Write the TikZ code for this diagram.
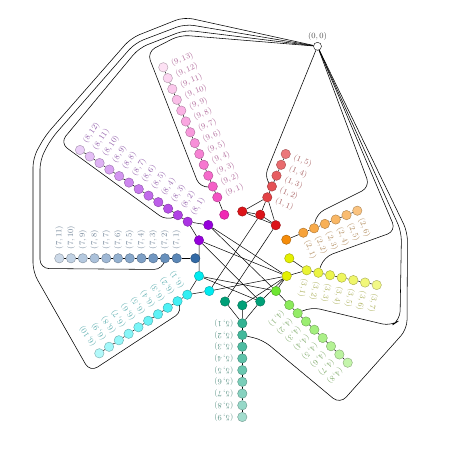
\documentclass[tikz,border=0pt]{standalone}
\usetikzlibrary{backgrounds}
\definecolor{cR}{RGB}{220,20,25}
\definecolor{cO}{RGB}{245,140,10}
\definecolor{cY}{RGB}{228,240,0}
\definecolor{cG}{RGB}{110,230,50}
\definecolor{cT}{RGB}{0,160,120}
\definecolor{cC}{RGB}{0,235,240}
\definecolor{cB}{RGB}{50,105,165}
\definecolor{cP}{RGB}{150,0,220}
\definecolor{cK}{RGB}{240,40,180}
\begin{document}
\begin{tikzpicture}[x=1pt,y=-1pt,
  vtx/.style={circle,minimum size=9.4pt,inner sep=0pt,line width=0.4pt},
  lbl/.style={font=\fontsize{8.3}{10}\selectfont,inner sep=0pt,anchor=west},
  edge/.style={line width=0.5pt,black},
  contour/.style={line width=0.55pt,black,rounded corners=9pt}]
\useasboundingbox (0,0) rectangle (460,460);
% root
\node[vtx,minimum size=8pt,fill=white,draw=black] (root) at (317.5,46.3) {};
\node[font=\fontsize{8.3}{10}\selectfont,text=black!70,inner sep=0pt] (rootlbl) at (317.5,36.5) {$(0,0)$};
% core nodes
\node[vtx,fill=cK,draw=cK!70!black] (P) at (224.3,214.7) {};
\node[vtx,fill=cR,draw=cR!70!black] (R1) at (242.3,211.5) {};
\node[vtx,fill=cR,draw=cR!70!black] (R2) at (260.3,214.7) {};
\node[vtx,fill=cR,draw=cR!70!black] (R3) at (275.8,225.2) {};
\node[vtx,fill=cP,draw=cP!70!black] (PU1) at (208.3,225) {};
\node[vtx,fill=cP,draw=cP!70!black] (PU2) at (199,240.3) {};
\node[vtx,fill=cB,draw=cB!70!black] (B) at (195.3,258.3) {};
\node[vtx,fill=cC,draw=cC!70!black] (C1) at (199,276) {};
\node[vtx,fill=cC,draw=cC!70!black] (C2) at (209.3,291) {};
\node[vtx,fill=cT,draw=cT!70!black] (T1) at (225,301.5) {};
\node[vtx,fill=cT,draw=cT!70!black] (T2) at (242.3,305.3) {};
\node[vtx,fill=cT,draw=cT!70!black] (T3) at (260.3,301.5) {};
\node[vtx,fill=cG,draw=cG!70!black] (G) at (276,291) {};
\node[vtx,fill=cY,draw=cY!70!black] (Y1) at (289.3,258.3) {};
\node[vtx,fill=cY,draw=cY!70!black] (Y2) at (286.7,276) {};
\node[vtx,fill=cO,draw=cO!70!black] (O) at (286.3,239.7) {};
% arms
\foreach \i/\n/\xa/\ya/\xb/\yb/\c/\ang in {
  1/5/267.3/197.3/285.7/154/cR/-23,
  2/6/303.3/232.7/357.3/210.7/cO/-67.8,
  3/7/306.7/270.3/376.7/285/cY/-102,
  4/8/289.3/305/347.7/362.7/cG/-134.6,
  5/9/242.3/323.3/242.3/417/cT/180,
  6/10/187.3/294.7/99.3/353.3/cC/123.7,
  7/11/176.7/258.3/59.3/258.3/cB/90,
  8/12/187.7/221.7/80/150/cP/56.3,
  9/13/217.3/197.3/163.3/67.3/cK/22.6}{
  \foreach \k in {1,...,\n}{
    \pgfmathsetmacro\px{\xa+(\k-1)*(\xb-\xa)/(\n-1)}
    \pgfmathsetmacro\py{\ya+(\k-1)*(\yb-\ya)/(\n-1)}
    \pgfmathsetmacro\lx{\px+8.8*cos(\ang)}
    \pgfmathsetmacro\ly{\py-8.8*sin(\ang)}
    \pgfmathtruncatemacro\pp{80-5.5*(\k-1)}
    \node[vtx,fill=\c!\pp!white,draw=\c!\pp!white!70!black] (n\i-\k) at (\px,\py) {};
    \node[lbl,rotate=\ang,text=\c!55!black!62!white] (l\i-\k) at (\lx,\ly) {$(\i,\k)$};
  }
}
\begin{pgfonlayer}{background}
\fill[white] (0,0) rectangle (460,460);
\foreach \i/\n in {1/5,2/6,3/7,4/8,5/9,6/10,7/11,8/12,9/13}{
  \foreach \k [evaluate=\k as \kp using int(\k-1)] in {2,...,\n}{
    \draw[edge] (n\i-\kp) -- (n\i-\k);
  }
}
% core to arms
\draw[edge] (R1) -- (n1-1) (R2) -- (n1-1) (R3) -- (n1-1);
\draw[edge] (R1) -- (R2) -- (R3) (R1) -- (R3);
\draw[edge] (O) -- (n2-1);
\draw[edge] (Y1) -- (n3-1) (Y2) -- (n3-1);
\draw[edge] (G) -- (n4-1);
\draw[edge] (T1) -- (n5-1) (T2) -- (n5-1) (T3) -- (n5-1);
\draw[edge] (C1) -- (n6-1) (C2) -- (n6-1);
\draw[edge] (B) -- (n7-1);
\draw[edge] (PU1) -- (n8-1) (PU2) -- (n8-1);
\draw[edge] (P) -- (n9-1);
% cross edges
\draw[edge] (R2) -- (C2) (R3) -- (T1);
\draw[edge] (PU1) -- (Y2) (PU1) -- (G);
\draw[edge] (PU2) -- (Y2) (PU2) -- (T3) (PU2) -- (C1);
\draw[edge] (C1) -- (G) (C1) -- (T3);
\draw[edge] (C2) -- (Y2);
\draw[edge] (T2) -- (Y2) (T3) -- (Y2) (G) -- (Y2);
% contours
\draw[contour] (root) -- (264,178) -- (n1-2);
\draw[contour] (root) -- (370,187) -- (316,214) -- (n2-2);
\draw[contour] (root) -- (396,231) -- (324,257) -- (n3-2);
\draw[contour] (root) -- (401.5,232) -- (400,320) -- (391,326) -- (311,307) -- (n4-2);
\draw[contour] (root) -- (407.5,232) -- (407,329) -- (340,404) -- (263,340) -- (n5-2);
\draw[contour] (root) -- (184,17) -- (131,38) -- (45,136) -- (33,158) -- (33,272) -- (90,372) -- (183,311) -- (n6-2);
\draw[contour] (root) -- (185,24) -- (135,43) -- (51,139) -- (40,160) -- (40,268.5) -- (163,269.5) -- (n7-2);
\draw[contour] (root) -- (185,30) -- (139,48) -- (60,143) -- (167,221) -- (n8-2);
\draw[contour] (root) -- (180,35) -- (147,52) -- (200,188) -- (n9-2);
\end{pgfonlayer}
\end{tikzpicture}
\end{document}
